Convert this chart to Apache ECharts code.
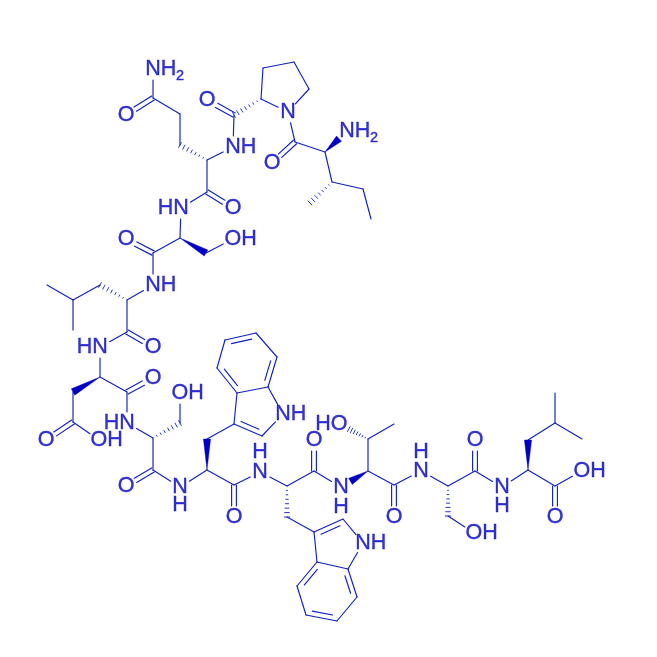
<!DOCTYPE html>
<html><head><meta charset="utf-8">
<style>html,body{margin:0;padding:0;background:#fff}#c{width:657px;height:657px}</style>
<script src="https://cdn.jsdelivr.net/npm/echarts@6/dist/echarts.min.js"></script>
</head><body><div id="c"></div>
<script>
// Atom positions: name -> [x, y]
const atoms = {
 ileCH3:[371,219], ileCH2:[363,189], ileCb:[332,182], ileMe:[310,203], ileCa:[325,152], ileN:[347,131], ileC:[295,142], ileO:[272,163],
 proN:[288,112], proCd:[309,89], proCg:[294,62], proCb:[263,68], proCa:[261,99], proC:[234,115], proO:[207,100],
 glnN:[233,147], glnCa:[207,160], glnCb:[180,145], glnCg:[180,114], glnCd:[153,98], glnOe:[126,115], glnNe:[153,69], glnC:[207,192], glnO:[233,208],
 ser1N:[181,208], ser1Ca:[180,238], ser1Cb:[206,253], ser1Og:[233,239], ser1C:[153,253], ser1O:[126,239],
 leu1N:[153,285], leu1Ca:[127,300], leu1Cb:[100,285], leu1Cg:[73,300], leu1Me1:[47,285], leu1Me2:[73,330], leu1C:[127,332], leu1O:[153,347],
 aspN:[100,347], aspCa:[100,377], aspCb:[73,392], aspCg:[73,422], aspO1:[46,440], aspO2:[99,440], aspC:[127,392], aspO:[153,378],
 ser2N:[127,423], ser2Ca:[153,438], ser2Cb:[180,423], ser2Og:[180,393], ser2C:[153,470], ser2O:[126,486],
 trp1N:[180,487], trp1Ca:[207,470], trp1Cb:[207,439], trp1C3:[234,424], trp1C2:[262,436], trp1N1:[283,414], trp1C3a:[237,393], trp1C7a:[268,387],
 trp1C4:[217,368], trp1C5:[225,340], trp1C6:[256,333], trp1C7:[277,357], trp1C:[234,485], trp1O:[234,517],
 trp2N:[260,472], trp2Ca:[287,486], trp2Cb:[287,517], trp2C3:[314,532], trp2C2:[343,519], trp2N1:[363,543], trp2C3a:[317,562], trp2C7a:[348,569],
 trp2C4:[297,586], trp2C5:[306,615], trp2C6:[337,621], trp2C7:[357,597], trp2C:[314,471], trp2O:[314,440],
 thrN:[341,487], thrCa:[368,471], thrCb:[368,439], thrOg:[339,424], thrMe:[394,424], thrC:[394,485], thrO:[394,517],
 ser3N:[421,471], ser3Ca:[448,486], ser3Cb:[448,516], ser3Og:[474,533], ser3C:[475,471], ser3O:[475,440],
 leu2N:[502,487], leu2Ca:[528,470], leu2Cb:[528,440], leu2Cg:[555,423], leu2Me1:[555,393], leu2Me2:[582,439], leu2C:[555,486], leu2O:[555,517], leu2OH:[582,471]
};
// Atom labels: [atom, text]
const atomLabels = [
 ['ileN','NH2'],['ileO','O'],['proN','N'],['proO','O'],['glnN','NH'],['glnOe','O'],['glnNe','NH2'],['glnO','O'],
 ['ser1N','HN'],['ser1Og','OH'],['ser1O','O'],['leu1N','NH'],['leu1O','O'],['aspN','HN'],['aspO1','O'],['aspO2','OH'],['aspO','O'],
 ['ser2N','HN'],['ser2Og','OH'],['ser2O','O'],['trp1N','N'],['trp1N1','NH'],['trp1O','O'],['trp2N','N'],['trp2N1','NH'],['trp2O','O'],
 ['thrN','N'],['thrOg','HO'],['thrO','O'],['ser3N','N'],['ser3Og','OH'],['ser3O','O'],['leu2N','N'],['leu2O','O'],['leu2OH','OH']
];
// Stacked hydrogens below or above their nitrogen: [text, x, y]
const stackedH = [['H',180,505],['H',260,452],['H',341,507],['H',421,452],['H',502,506]];
const singleBonds = [
 ['ileCH3','ileCH2'],['ileCH2','ileCb'],['ileCb','ileCa'],['ileCa','ileC'],['ileC','proN'],['proN','proCd'],['proCd','proCg'],['proCg','proCb'],['proCb','proCa'],['proCa','proN'],
 ['proC','glnN'],['glnN','glnCa'],['glnCb','glnCg'],['glnCg','glnCd'],['glnCd','glnNe'],['glnCa','glnC'],['glnC','ser1N'],['ser1N','ser1Ca'],['ser1Ca','ser1C'],['ser1Cb','ser1Og'],
 ['ser1C','leu1N'],['leu1N','leu1Ca'],['leu1Cb','leu1Cg'],['leu1Cg','leu1Me1'],['leu1Cg','leu1Me2'],['leu1Ca','leu1C'],['leu1C','aspN'],['aspN','aspCa'],['aspCa','aspC'],['aspCb','aspCg'],['aspCg','aspO2'],
 ['aspC','ser2N'],['ser2N','ser2Ca'],['ser2Cb','ser2Og'],['ser2Ca','ser2C'],['ser2C','trp1N'],['trp1N','trp1Ca'],['trp1Ca','trp1C'],['trp1Cb','trp1C3'],['trp1C3','trp1C3a'],['trp1C2','trp1N1'],['trp1N1','trp1C7a'],['trp1C3a','trp1C7a'],
 ['trp1C4','trp1C5'],['trp1C6','trp1C7'],['trp1C','trp2N'],['trp2N','trp2Ca'],['trp2Ca','trp2C'],['trp2Cb','trp2C3'],['trp2C3','trp2C3a'],['trp2C2','trp2N1'],['trp2N1','trp2C7a'],['trp2C3a','trp2C7a'],
 ['trp2C4','trp2C5'],['trp2C6','trp2C7'],['trp2C','thrN'],['thrCa','thrCb'],['thrCb','thrMe'],['thrCa','thrC'],['thrC','ser3N'],['ser3N','ser3Ca'],['ser3Ca','ser3C'],['ser3Cb','ser3Og'],
 ['ser3C','leu2N'],['leu2N','leu2Ca'],['leu2Cb','leu2Cg'],['leu2Cg','leu2Me1'],['leu2Cg','leu2Me2'],['leu2Ca','leu2C'],['leu2C','leu2OH']
];
const carbonylBonds = [
 ['ileC','ileO'],['proC','proO'],['glnCd','glnOe'],['glnC','glnO'],['ser1C','ser1O'],['leu1C','leu1O'],['aspCg','aspO1'],['aspC','aspO'],['ser2C','ser2O'],
 ['trp1C','trp1O'],['trp2C','trp2O'],['thrC','thrO'],['ser3C','ser3O'],['leu2C','leu2O']
];
// Ring double bonds: [a, b, atom on the inner side]
const ringDoubleBonds = [
 ['trp1C3','trp1C2','trp1C7a'],['trp1C3a','trp1C4','trp1C6'],['trp1C5','trp1C6','trp1C7a'],['trp1C7','trp1C7a','trp1C5'],
 ['trp2C3','trp2C2','trp2C7a'],['trp2C3a','trp2C4','trp2C6'],['trp2C5','trp2C6','trp2C7a'],['trp2C7','trp2C7a','trp2C5']
];
// Stereo bonds start at the narrow end
const wedgeBonds = [['ileCa','ileN'],['ser1Ca','ser1Cb'],['aspCa','aspCb'],['trp1Ca','trp1Cb'],['thrCa','thrN'],['leu2Ca','leu2Cb']];
const hashBonds = [['proCa','proC'],['glnCa','glnCb'],['ileCb','ileMe'],['leu1Ca','leu1Cb'],['ser2Ca','ser2Cb'],['thrCb','thrOg'],['trp2Ca','trp2Cb'],['ser3Ca','ser3Cb']];

const BOND='#1020c4', TEXT='#0000c4', FONT='"Liberation Sans",Arial,sans-serif';
const labelled = new Set(atomLabels.map(l=>l[0]));
const rows = [];
const add=(list,kind)=>list.forEach(b=>rows.push({a:b[0],b:b[1],c:b[2],kind}));
add(singleBonds,'s');add(carbonylBonds,'d');add(ringDoubleBonds,'r');add(wedgeBonds,'w');add(hashBonds,'h');
const bondData = rows.map(r=>atoms[r.a].concat(atoms[r.b]));
const GAP=11;
function renderBond(params,api){
  const r=rows[params.dataIndex];
  let p=api.coord([api.value(0),api.value(1)]), q=api.coord([api.value(2),api.value(3)]);
  const dx=q[0]-p[0],dy=q[1]-p[1],len=Math.hypot(dx,dy),ux=dx/len,uy=dy/len,nx=-uy,ny=ux;
  if(labelled.has(r.a)) p=[p[0]+ux*GAP,p[1]+uy*GAP];
  if(labelled.has(r.b)) q=[q[0]-ux*GAP,q[1]-uy*GAP];
  const st={stroke:BOND,lineWidth:1.15,lineCap:'round',fill:null};
  const thin={stroke:BOND,lineWidth:.9,fill:null};
  const line=(a,b,s)=>({type:'line',shape:{x1:a[0],y1:a[1],x2:b[0],y2:b[1]},style:s||st});
  const kids=[];
  if(r.kind==='s') kids.push(line(p,q));
  else if(r.kind==='d'){
    const o=2.4;
    kids.push(line([p[0]+nx*o,p[1]+ny*o],[q[0]+nx*o,q[1]+ny*o]));
    kids.push(line([p[0]-nx*o,p[1]-ny*o],[q[0]-nx*o,q[1]-ny*o]));
  } else if(r.kind==='r'){
    kids.push(line(p,q));
    const c=api.coord(atoms[r.c]);
    const s=((c[0]-p[0])*nx+(c[1]-p[1])*ny)>0?1:-1, o=5, t=5.5;
    kids.push(line([p[0]+nx*s*o+ux*t,p[1]+ny*s*o+uy*t],[q[0]+nx*s*o-ux*t,q[1]+ny*s*o-uy*t]));
  } else if(r.kind==='w'){
    const w=3.6;
    kids.push({type:'polygon',shape:{points:[p,[q[0]+nx*w,q[1]+ny*w],[q[0]-nx*w,q[1]-ny*w]]},style:{fill:TEXT,stroke:TEXT,lineWidth:.4}});
  } else {
    const n=7;
    for(let i=1;i<=n;i++){
      const f=i/n, h=.5+2.6*f, m=[p[0]+(q[0]-p[0])*f,p[1]+(q[1]-p[1])*f];
      kids.push(line([m[0]+nx*h,m[1]+ny*h],[m[0]-nx*h,m[1]-ny*h],thin));
    }
  }
  return {type:'group',children:kids};
}
const FS=21.5, CH=FS*0.36;
const textData=[];
atomLabels.forEach(([a,t])=>{
  const [x,y]=atoms[a];
  if(t==='NH2'){textData.push({value:[x+CH,y],name:'NH',fs:FS});textData.push({value:[x+27,y+6.5],name:'2',fs:14.5});}
  else if(t==='NH'||t==='OH') textData.push({value:[x+CH,y],name:t,fs:FS});
  else if(t==='HN'||t==='HO') textData.push({value:[x-CH,y],name:t,fs:FS});
  else textData.push({value:[x,y],name:t,fs:FS});
});
stackedH.forEach(([t,x,y])=>textData.push({value:[x,y],name:t,fs:FS}));
const chart=echarts.init(document.getElementById('c'),null,{renderer:'canvas'});
chart.setOption({
  animation:false,backgroundColor:'#fff',
  grid:{left:0,right:0,top:0,bottom:0},
  xAxis:{type:'value',min:0,max:657,show:false},
  yAxis:{type:'value',min:0,max:657,inverse:true,show:false},
  series:[
   {type:'custom',data:bondData,renderItem:renderBond,encode:{x:[0,2],y:[1,3]},silent:true,clip:false},
   {type:'scatter',symbolSize:0,silent:true,
    data:textData.map(d=>({value:d.value,name:d.name,label:{fontSize:d.fs}})),
    label:{show:true,position:'inside',formatter:p=>p.name,color:TEXT,fontFamily:FONT,align:'center',verticalAlign:'middle',textBorderColor:TEXT,textBorderWidth:.4}}
  ]
});
</script></body></html>
